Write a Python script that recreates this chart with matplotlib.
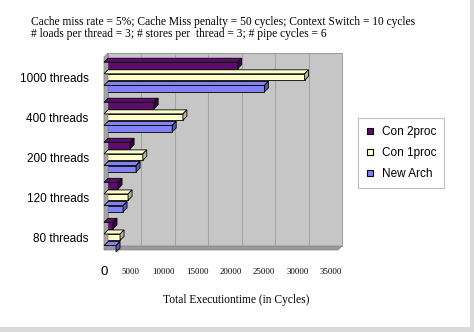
import matplotlib.pyplot as plt
import numpy as np
from matplotlib.patches import Polygon, Rectangle
from matplotlib.lines import Line2D
from matplotlib.transforms import ScaledTranslation, IdentityTransform, blended_transform_factory

# values (cycles)
threads = ['80 threads', '120 threads', '200 threads', '400 threads', '1000 threads']
con_2proc = [1350, 2100, 3900, 7500, 20000]
con_1proc = [2400, 3600, 5800, 11800, 30000]
new_arch = [1800, 2850, 4800, 10200, 24000]

series_names = ['Con 2proc', 'Con 1proc', 'New Arch']
series_colors = ['#5e0b6e', '#ffffcc', '#8282f5']
side_colors = ['#3a0645', '#b8b890', '#5858b0']
x_ticks = [5000, 10000, 15000, 20000, 25000, 30000, 35000]

title_lines = ['Cache miss rate = 5%; Cache Miss penalty = 50 cycles; Context Switch = 10 cycles',
               '# loads per thread = 3; # stores per  thread = 3; # pipe cycles = 6']

DPI = 100
W, H = 474, 332
depth = 4  # px, fake 3D depth

fig = plt.figure(figsize=(W / DPI, H / DPI), dpi=DPI)
fig.patch.set_facecolor('#dadada')
fig.add_artist(Rectangle((0, 5 / H), 470 / W, 1, transform=fig.transFigure,
                         facecolor='white', edgecolor='none', zorder=-10))

ax = fig.add_axes([104 / W, 82 / H, 234 / W, 193 / H])
ax.set_xlim(0, 35000)
ax.set_ylim(-0.32, 4.5)
ax.set_facecolor('none')
for s in ax.spines.values():
    s.set_visible(False)

shift = ScaledTranslation(depth / DPI, depth / DPI, fig.dpi_scale_trans)

# back wall
ax.add_patch(Rectangle((0, 0), 1, 1, transform=ax.transAxes + shift, facecolor='#c6c6c6',
                       edgecolor='#8a8a8a', lw=0.6, zorder=0, clip_on=False))
# left wall and floor
bl, tl, br = ax.transAxes.transform([[0, 0], [0, 1], [1, 0]])
left_wall = [bl, tl, tl + depth, bl + depth]
floor = [bl, br, br + depth, bl + depth]
fig.add_artist(Polygon(left_wall, closed=True, transform=IdentityTransform(),
                       facecolor='#a6a6a6', edgecolor='#808080', lw=0.5, zorder=0.5))
fig.add_artist(Polygon(floor, closed=True, transform=IdentityTransform(),
                       facecolor='#9a9a9a', edgecolor='#808080', lw=0.5, zorder=0.5))

# gridlines on the back wall
for v in x_ticks:
    ax.plot([v, v], [-0.32, 4.5], transform=ax.transData + shift, color='#a4a4a4',
            lw=0.8, zorder=1, clip_on=False)

y = np.arange(len(threads))
offsets = [0.29, 0.0, -0.29]
bar_h = 0.16

for vals, off, col, side in zip([con_2proc, con_1proc, new_arch], offsets, series_colors, side_colors):
    bars = ax.barh(y + off, vals, height=bar_h, color=col, edgecolor='black', lw=0.6, zorder=3)
    for r in bars:
        x0, y0, w, h = r.get_x(), r.get_y(), r.get_width(), r.get_height()
        p_tl, p_tr, p_br = ax.transData.transform([[x0, y0 + h], [x0 + w, y0 + h], [x0 + w, y0]])
        top = [p_tl, p_tr, p_tr + depth, p_tl + depth]
        right = [p_br, p_tr, p_tr + depth, p_br + depth]
        fig.add_artist(Polygon(top, closed=True, transform=IdentityTransform(),
                               facecolor=col, edgecolor='black', lw=0.6, zorder=3))
        fig.add_artist(Polygon(right, closed=True, transform=IdentityTransform(),
                               facecolor=side, edgecolor='black', lw=0.6, zorder=3))

ax.set_yticks(y)
ax.set_yticklabels(threads, fontsize=8.5, family='Liberation Sans')
ax.tick_params(axis='y', length=0, pad=11)

ax.set_xticks(x_ticks)
ax.set_xticklabels([str(v) for v in x_ticks], fontsize=6.3, family='Liberation Serif')
ax.tick_params(axis='x', length=0, pad=13)
for lbl in ax.get_xticklabels():
    lbl.set_transform(lbl.get_transform() + ScaledTranslation(-7 / DPI, 0, fig.dpi_scale_trans))

ax.text(0, -22 / 193, '0', transform=blended_transform_factory(ax.transData, ax.transAxes),
        ha='center', va='center', fontsize=9.5, family='Liberation Sans')

fig.text(236 / W, 1 - 300 / H, 'Total Executiontime (in Cycles)', ha='center', va='center',
         fontsize=8.3, family='Liberation Serif')

fig.text(31 / W, 1 - 22 / H, title_lines[0], ha='left', va='center', fontsize=8.3, family='Liberation Serif')
fig.text(31 / W, 1 - 34.5 / H, title_lines[1], ha='left', va='center', fontsize=8.3, family='Liberation Serif')

handles = [Line2D([], [], marker='s', linestyle='none', markersize=5, markerfacecolor=c,
                  markeredgecolor='black', markeredgewidth=0.8) for c in series_colors]
leg = fig.legend(handles, series_names, loc='upper left', bbox_to_anchor=(358 / W, 1 - 118 / H),
                 frameon=True, fancybox=False, edgecolor='#b0b0b0',
                 prop={'family': 'Liberation Sans', 'size': 8.5},
                 labelspacing=0.75, handlelength=0.6, handletextpad=0.7, borderpad=0.7,
                 borderaxespad=0)
leg.get_frame().set_linewidth(0.8)

fig.savefig('out.png', dpi=DPI)
